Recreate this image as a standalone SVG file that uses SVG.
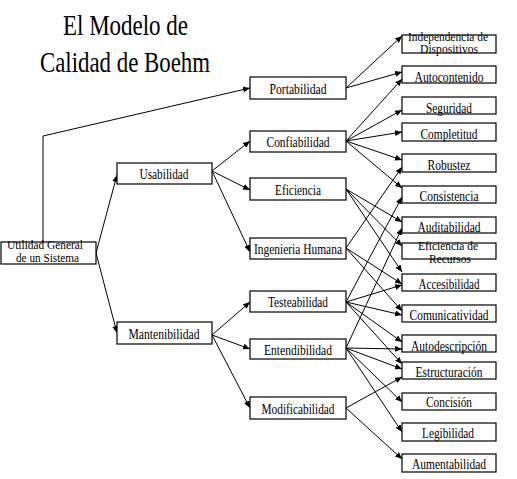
<svg xmlns="http://www.w3.org/2000/svg" width="517" height="479" viewBox="0 0 517 479">
<defs>
<marker id="ah" markerWidth="7" markerHeight="6" refX="7" refY="3" orient="auto" markerUnits="userSpaceOnUse">
<path d="M0,0 L7,3 L0,6 z" fill="#000"/>
</marker>
<style>
rect{fill:#fff;stroke:#000;stroke-width:1.2}
text{font-family:"Liberation Serif","Times New Roman",serif;font-size:15px;fill:#000;text-anchor:middle}
text.s{font-size:12.5px}
.t{font-size:30px}
#edges path{fill:none;stroke:#000;stroke-width:1;marker-end:url(#ah)}
</style>
</defs>
<rect x="0" y="0" width="517" height="479" style="fill:#fff;stroke:none"/>
<g id="title">
<text class="t" x="125.5" y="35" textLength="125" lengthAdjust="spacingAndGlyphs">El Modelo de</text>
<text class="t" x="125" y="72" textLength="170" lengthAdjust="spacingAndGlyphs">Calidad de Boehm</text>
</g>
<g id="edges">
<path d="M43,242 V136 L250,88"/>
<path d="M96,253 L117,175"/>
<path d="M96,253 L117,333"/>
<path d="M212,171 L250,141"/>
<path d="M212,171 L250,190"/>
<path d="M212,171 L250,252"/>
<path d="M212,335 L250,302"/>
<path d="M212,335 L250,349"/>
<path d="M212,335 L250,408"/>
<path d="M346,88 L402,36"/>
<path d="M346,88 L402,72"/>
<path d="M346,141 L402,79"/>
<path d="M346,141 L402,110"/>
<path d="M346,141 L402,132"/>
<path d="M346,141 L402,160"/>
<path d="M346,141 L402,188"/>
<path d="M346,189 L402,222"/>
<path d="M346,189 L402,246"/>
<path d="M346,189 L402,272"/>
<path d="M346,248 L402,167"/>
<path d="M346,248 L402,284"/>
<path d="M346,248 L402,311"/>
<path d="M346,302 L402,197"/>
<path d="M346,302 L402,285"/>
<path d="M346,302 L402,315"/>
<path d="M346,302 L402,342"/>
<path d="M346,302 L402,364"/>
<path d="M346,348 L402,228"/>
<path d="M346,348 L402,349"/>
<path d="M346,348 L402,369"/>
<path d="M346,348 L402,402"/>
<path d="M346,348 L402,432"/>
<path d="M346,408 L402,377"/>
<path d="M346,408 L402,459"/>
</g>
<g id="n-root"><rect x="1" y="242" width="95" height="22"/>
<text class="s" x="45" y="248.5" textLength="76" lengthAdjust="spacingAndGlyphs">Utilidad General</text>
<text class="s" x="47.5" y="261.5" textLength="63" lengthAdjust="spacingAndGlyphs">de un Sistema</text></g>
<g id="n-usab"><rect x="117" y="163" width="95" height="21"/><text x="164" y="178.5" textLength="49" lengthAdjust="spacingAndGlyphs">Usabilidad</text></g>
<g id="n-mant"><rect x="117" y="322" width="95" height="22"/><text x="164" y="338.5" textLength="71" lengthAdjust="spacingAndGlyphs">Mantenibilidad</text></g>
<g id="n-port"><rect x="250" y="77" width="96" height="22"/><text x="298" y="93.5" textLength="57" lengthAdjust="spacingAndGlyphs">Portabilidad</text></g>
<g id="n-conf"><rect x="250" y="131" width="96" height="21"/><text x="298" y="146.5" textLength="63" lengthAdjust="spacingAndGlyphs">Confiabilidad</text></g>
<g id="n-efic"><rect x="250" y="178" width="96" height="22"/><text x="298" y="195" textLength="46" lengthAdjust="spacingAndGlyphs">Eficiencia</text></g>
<g id="n-ing"><rect x="250" y="238" width="96" height="21"/><text x="298" y="253.5" textLength="88" lengthAdjust="spacingAndGlyphs">Ingenieria Humana</text></g>
<g id="n-test"><rect x="250" y="291" width="96" height="21"/><text x="298" y="307" textLength="60" lengthAdjust="spacingAndGlyphs">Testeabilidad</text></g>
<g id="n-ent"><rect x="250" y="339" width="96" height="20"/><text x="298" y="354.5" textLength="68" lengthAdjust="spacingAndGlyphs">Entendibilidad</text></g>
<g id="n-mod"><rect x="250" y="397" width="96" height="22"/><text x="298" y="414" textLength="73" lengthAdjust="spacingAndGlyphs">Modificabilidad</text></g>
<g id="n-indep"><rect x="402" y="35" width="94" height="18"/>
<text class="s" x="448" y="40.5" textLength="80" lengthAdjust="spacingAndGlyphs">Independencia de</text>
<text class="s" x="449" y="53" textLength="58" lengthAdjust="spacingAndGlyphs">Dispositivos</text></g>
<g id="n-autoc"><rect x="402" y="66" width="94" height="17"/><text x="449" y="82" textLength="69" lengthAdjust="spacingAndGlyphs">Autocontenido</text></g>
<g id="n-seg"><rect x="402" y="97" width="94" height="17"/><text x="449" y="113" textLength="46" lengthAdjust="spacingAndGlyphs">Seguridad</text></g>
<g id="n-comp"><rect x="402" y="123" width="94" height="18"/><text x="449" y="139" textLength="57" lengthAdjust="spacingAndGlyphs">Completitud</text></g>
<g id="n-rob"><rect x="402" y="154" width="94" height="18"/><text x="449" y="170" textLength="43" lengthAdjust="spacingAndGlyphs">Robustez</text></g>
<g id="n-cons"><rect x="402" y="186" width="94" height="17"/><text x="449" y="201" textLength="59" lengthAdjust="spacingAndGlyphs">Consistencia</text></g>
<g id="n-aud"><rect x="402" y="217" width="94" height="16"/><text x="449" y="232" textLength="63" lengthAdjust="spacingAndGlyphs">Auditabilidad</text></g>
<g id="n-efrec"><rect x="402" y="243" width="94" height="16"/>
<text class="s" x="448" y="249.5" textLength="60" lengthAdjust="spacingAndGlyphs">Eficiencia de</text>
<text class="s" x="450" y="263" textLength="42" lengthAdjust="spacingAndGlyphs">Recursos</text></g>
<g id="n-acc"><rect x="402" y="274" width="94" height="17"/><text x="449" y="289" textLength="61" lengthAdjust="spacingAndGlyphs">Accesibilidad</text></g>
<g id="n-com"><rect x="402" y="305" width="94" height="17"/><text x="449" y="320" textLength="79" lengthAdjust="spacingAndGlyphs">Comunicatividad</text></g>
<g id="n-autod"><rect x="402" y="335" width="94" height="17"/><text x="449" y="351" textLength="76" lengthAdjust="spacingAndGlyphs">Autodescripción</text></g>
<g id="n-est"><rect x="402" y="362" width="94" height="17"/><text x="449" y="377" textLength="67" lengthAdjust="spacingAndGlyphs">Estructuración</text></g>
<g id="n-conc"><rect x="402" y="393" width="94" height="17"/><text x="449" y="407" textLength="46" lengthAdjust="spacingAndGlyphs">Concisión</text></g>
<g id="n-leg"><rect x="402" y="423" width="94" height="18"/><text x="448" y="438" textLength="52" lengthAdjust="spacingAndGlyphs">Legibilidad</text></g>
<g id="n-aum"><rect x="402" y="454" width="94" height="18"/><text x="449" y="469" textLength="74" lengthAdjust="spacingAndGlyphs">Aumentabilidad</text></g>
</svg>
